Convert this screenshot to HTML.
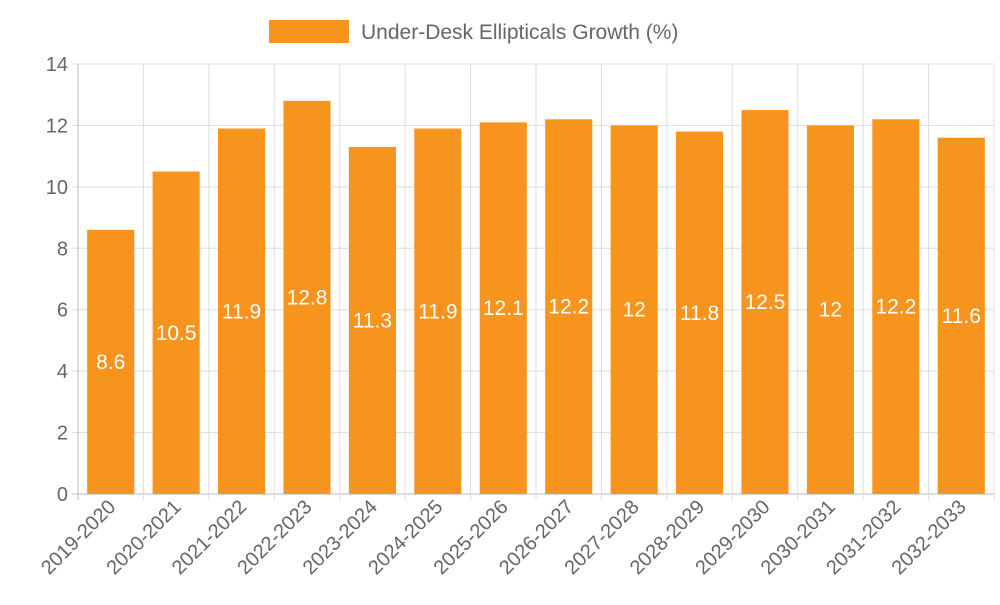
<!DOCTYPE html>
<html><head><meta charset="utf-8"><style>
body{margin:0;background:#fff;width:1000px;height:600px;overflow:hidden;font-family:"Liberation Sans",sans-serif}
</style></head><body>
<svg id="c" width="1000" height="600" xmlns="http://www.w3.org/2000/svg">
<g>
<rect x="269" y="20" width="80" height="23" fill="#f7941d"/>
<text x="361" y="39" font-size="21" fill="#666">Under-Desk Ellipticals Growth (%)</text>
</g>
</svg>
<script>
const categories=["2019-2020","2020-2021","2021-2022","2022-2023","2023-2024","2024-2025","2025-2026","2026-2027","2027-2028","2028-2029","2029-2030","2030-2031","2031-2032","2032-2033"];
const values=[8.6,10.5,11.9,12.8,11.3,11.9,12.1,12.2,12,11.8,12.5,12,12.2,11.6];
const yTicks=[0,2,4,6,8,10,12,14];
const svg=document.getElementById('c');const NS="http://www.w3.org/2000/svg";
const L=78,R=994,T=64,B=494,yMax=14;
const y=v=>B-(v/yMax)*(B-T);
const step=(R-L)/categories.length;
const x=i=>L+step*i;
function mk(t,a,p){const e=document.createElementNS(NS,t);for(const k in a)e.setAttribute(k,a[k]);(p||svg).appendChild(e);return e;}
const grid=mk('g',{});


yTicks.forEach(v=>{
 const l=mk('line',{x1:L-6,x2:R,y1:y(v),y2:y(v),stroke:v===0?'#bbb':'#ddd','stroke-width':1},grid);
 
 
 const t=mk('text',{x:L-10,y:y(v)+7,'text-anchor':'end','font-size':20,fill:'#666'});
 t.textContent=v;
 
 
});
for(let i=0;i<=categories.length;i++){
 const l=mk('line',{x1:x(i),x2:x(i),y1:T,y2:B+6,stroke:i===0?'#bbb':'#ddd','stroke-width':1},grid);
 
 
}
const bw=step*0.72;
categories.forEach((c,i)=>{
 const cx=x(i)+step/2;
 const r=mk('rect',{x:cx-bw/2,y:y(values[i]),width:bw,height:B-y(values[i]),fill:'#f7941d'});
 
 
 const vt=mk('text',{x:cx,y:(y(values[i])+B)/2+7,'text-anchor':'middle','font-size':21,fill:'#fff'});
 vt.textContent=values[i];
 
 
 const lt=mk('text',{x:cx+6,y:B+14,'text-anchor':'end','font-size':20,fill:'#666',transform:`rotate(-45 ${cx+6} ${B+14})`});
 lt.textContent=c;
 
 
});
</script>
</body></html>
